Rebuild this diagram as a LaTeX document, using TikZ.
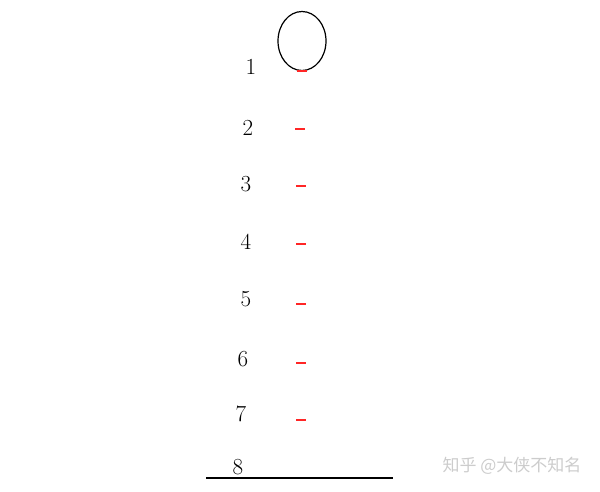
\documentclass[tikz,border=0pt]{standalone}
\usepackage{fontspec}
\newfontfamily\cjk{Noto Sans CJK SC}
\tikzset{
    num/.style={font=\fontsize{23}{23}\selectfont, inner sep=0pt},
    tick/.style={red!85, line width=1.3},
}
\begin{document}
\begin{tikzpicture}[x=1pt,y=-1pt]
    \useasboundingbox (0,0) rectangle (600,492);
    \draw[line width=1.2] (302,41) ellipse [x radius=24, y radius=29.5];
    \foreach \n/\x/\y in {1/251/67,2/248/128,3/246/184,4/246/242,5/246/299,6/243/359,7/241/414,8/238/467} {
        \node [num] (n\n) at (\x,\y) {\n};
    }
    \foreach \m/\x/\y in {1/302/71,2/300/129,3/301/186,4/301/244,5/301/304,6/301/363,7/301/420} {
        \draw[tick] (\x-5,\y) -- (\x+5,\y);
    }
    \draw[line width=1.2] (206,478) -- (393,478);
    \node [text=gray!40, font=\cjk\fontsize{17}{17}\selectfont, anchor=east] (mark) at (585,466) {知乎 @大侠不知名};
\end{tikzpicture}
\end{document}
